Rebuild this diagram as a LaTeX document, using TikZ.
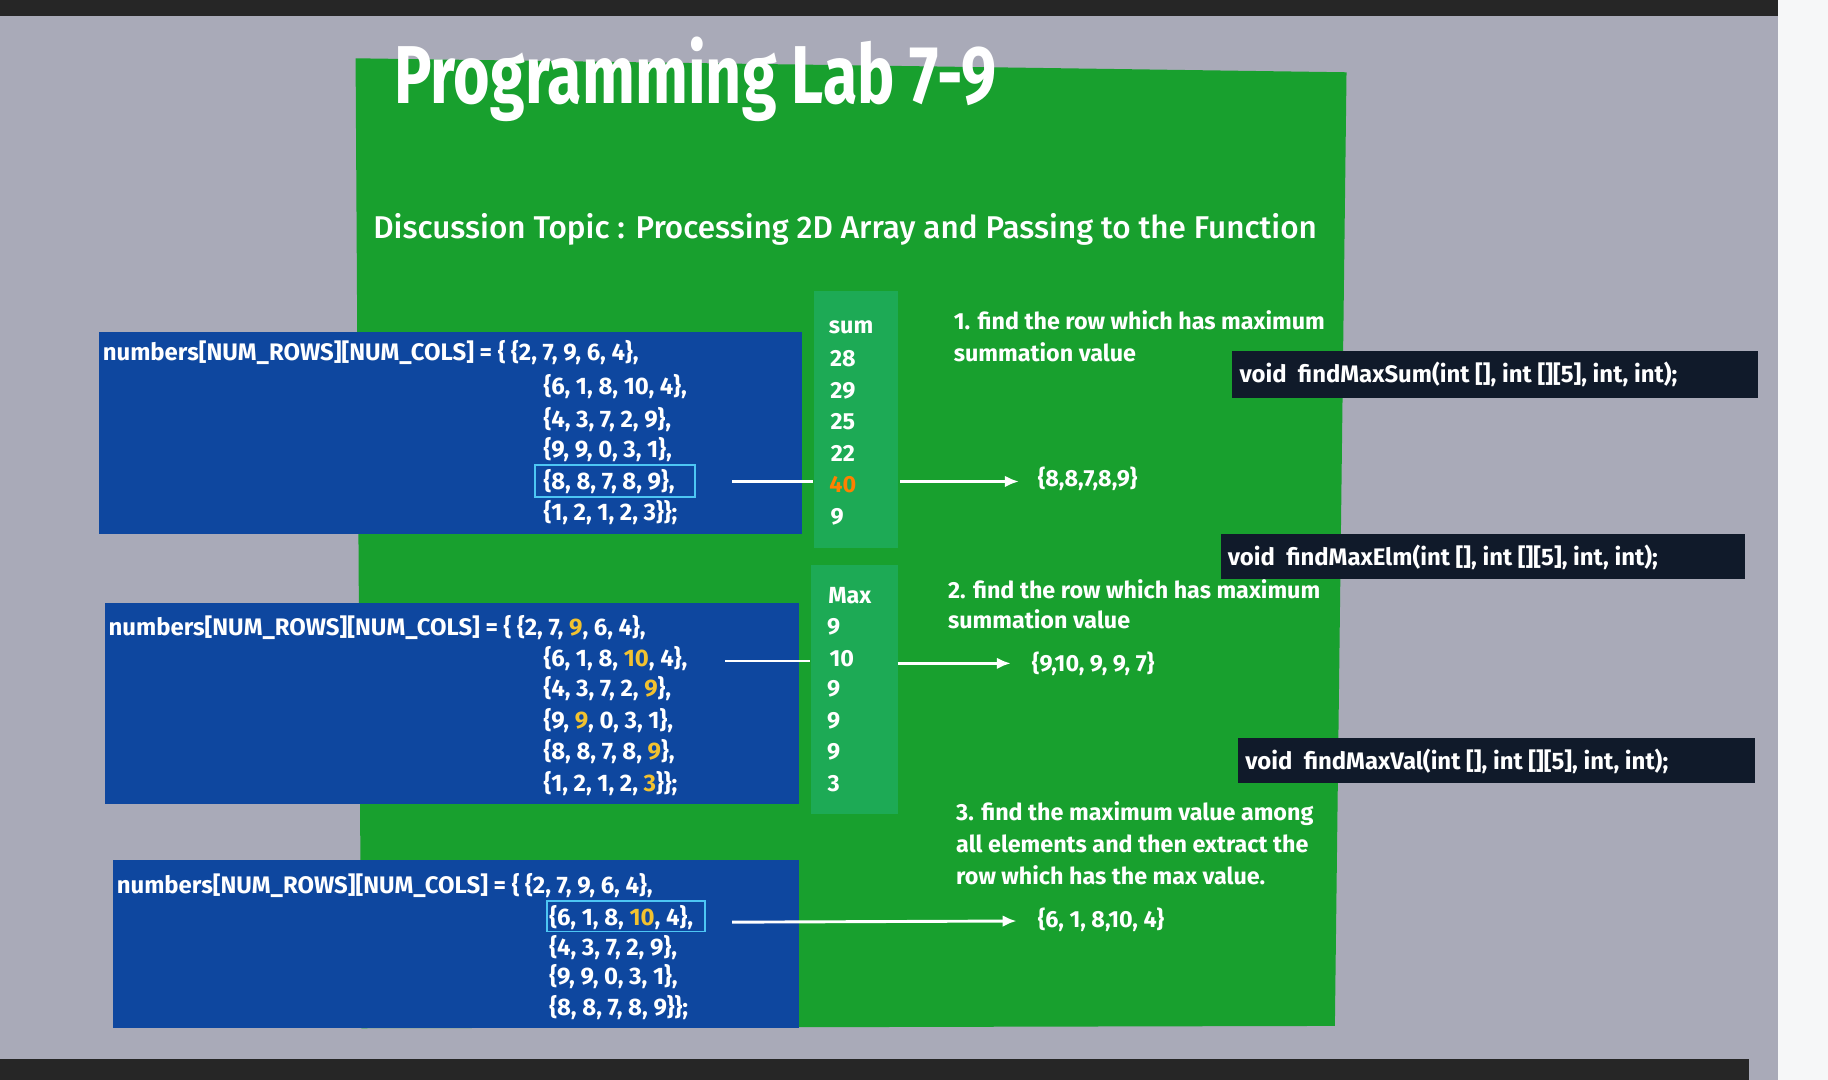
\documentclass[tikz,border=0pt]{standalone}
\usepackage{fontspec}
\usetikzlibrary{arrows.meta}
\setmainfont{Fira Sans}[UprightFont=* Bold]
\newfontfamily\subfont{Fira Sans}[UprightFont=* Medium]
\definecolor{bg}{HTML}{A9AAB8}
\definecolor{grn}{HTML}{18A02E}
\definecolor{teal}{HTML}{1DAA55}
\definecolor{blu}{HTML}{0E479F}
\definecolor{dk}{HTML}{101A2A}
\definecolor{yl}{HTML}{F2C230}
\newcommand\yy[1]{\textcolor{yl}{#1}}
\begin{document}
\begin{tikzpicture}[x=1pt,y=-1pt,
  code/.style={anchor=west,text=white,font=\fontsize{20.5}{21}\selectfont,inner sep=0pt},
  txt/.style={anchor=west,text=white,font=\fontsize{20}{21}\selectfont,inner sep=0pt},
  num/.style={text=white,font=\fontsize{20}{21}\selectfont,inner sep=0pt},
  fn/.style={anchor=west,text=white,font=\fontsize{20.5}{21}\selectfont,inner sep=0pt},
  ln/.style={white,line width=2.5pt},
  arr/.style={white,line width=2.5pt,-{Latex[length=12pt,width=10pt]}},
  hl/.style={draw=cyan!70!white,line width=1.5pt}]
\useasboundingbox (0,0) rectangle (1568,926);
\fill[bg] (0,0) rectangle (1568,926);
\fill[white!90!bg] (1525,0) rectangle (1568,926);
\fill[black!85] (0,0) rectangle (1525,14);
\fill[black!85] (0,908) rectangle (1500,926);
% green
\fill[grn] (305,50) -- (1155,62) -- (1145,880) -- (310,882) -- cycle;
\fill[teal] (698,250) rectangle (770,470);
\fill[teal] (696,485) rectangle (770,698);
% blue boxes
\fill[blu] (85,285) rectangle (688,458);
\fill[blu] (90,517) rectangle (685,690);
\fill[blu] (97,738) rectangle (685,882);
% dark fn boxes
\fill[dk] (1057,301) rectangle (1508,341);
\fill[dk] (1047,458) rectangle (1497,497);
\fill[dk] (1062,633) rectangle (1505,672);
\node[fn] (f1) at (1063,321) {void\ \ findMaxSum(int [], int [][5], int, int);};
\node[fn] (f2) at (1053,478) {void\ \ findMaxElm(int [], int [][5], int, int);};
\node[fn] (f3) at (1068,653) {void\ \ findMaxVal(int [], int [][5], int, int);};
% title
\node[anchor=west,text=white,inner sep=0pt,font=\fontsize{64}{64}\selectfont,xscale=0.84,yscale=1.1] (title) at (338,68) {Programming Lab 7-9};
\node[anchor=west,text=white,inner sep=0pt,font=\fontsize{27}{30}\subfont] (sub) at (320,197) {Discussion Topic : Processing 2D Array and Passing to the Function};
% box1
\node[code] (a0) at (88,302) {numbers[NUM\_ROWS][NUM\_COLS] = \{ \{2, 7, 9, 6, 4\},};
\node[code] (a1) at (466,332) {\{6, 1, 8, 10, 4\},};
\node[code] (a2) at (466,360) {\{4, 3, 7, 2, 9\},};
\node[code] (a3) at (466,386) {\{9, 9, 0, 3, 1\},};
\node[code] (a4) at (466,413) {\{8, 8, 7, 8, 9\},};
\node[code] (a5) at (466,440) {\{1, 2, 1, 2, 3\}\};};
\draw[hl] (459,399) rectangle (596,426);
\node[num] (s0) at (730,281) {sum};
\node[num] (s1) at (723,308) {28};
\node[num] (s2) at (723,335) {29};
\node[num] (s3) at (723,362) {25};
\node[num] (s4) at (723,389) {22};
\node[num,text=orange] (s5) at (723,416) {40};
\node[num] (s6) at (718,443) {9};
\coordinate (l1a) at (628,413); \coordinate (l1b) at (697,413);
\draw[ln] (l1a) -- (l1b);
\node[txt] (r1) at (890,411) {\{8,8,7,8,9\}};
\coordinate (q1) at (772,413);
\draw[arr] (q1) -- (874,413);
\node[txt] (t1a) at (818,275) {1. find the row which has maximum};
\node[txt] (t1b) at (818,302) {summation value};
% box2
\node[code] (b0) at (93,538) {numbers[NUM\_ROWS][NUM\_COLS] = \{ \{2, 7, \yy{9}, 6, 4\},};
\node[code] (b1) at (466,565) {\{6, 1, 8, \yy{10}, 4\},};
\node[code] (b2) at (466,591) {\{4, 3, 7, 2, \yy{9}\},};
\node[code] (b3) at (466,618) {\{9, \yy{9}, 0, 3, 1\},};
\node[code] (b4) at (466,645) {\{8, 8, 7, 8, \yy{9}\},};
\node[code] (b5) at (466,672) {\{1, 2, 1, 2, \yy{3}\}\};};
\node[num] (m0) at (729,511) {Max};
\node[num] (m1) at (715,538) {9};
\node[num] (m2) at (722,565) {10};
\node[num] (m3) at (715,591) {9};
\node[num] (m4) at (715,618) {9};
\node[num] (m5) at (715,645) {9};
\node[num] (m6) at (715,672) {3};
\coordinate (l2a) at (622,567); \coordinate (l2b) at (695,567);
\draw[ln] (l2a) -- (l2b);
\node[txt] (r2) at (885,569) {\{9,10, 9, 9, 7\}};
\coordinate (q2) at (770,569);
\draw[arr] (q2) -- (867,569);
\node[txt] (t2a) at (813,505) {2. find the row which has maximum};
\node[txt] (t2b) at (813,531) {summation value};
% box3
\node[code] (c0) at (100,760) {numbers[NUM\_ROWS][NUM\_COLS] = \{ \{2, 7, 9, 6, 4\},};
\node[code] (c1) at (471,787) {\{6, 1, 8, \yy{10}, 4\},};
\node[code] (c2) at (471,813) {\{4, 3, 7, 2, 9\},};
\node[code] (c3) at (471,838) {\{9, 9, 0, 3, 1\},};
\node[code] (c4) at (471,864) {\{8, 8, 7, 8, 9\}\};};
\draw[hl] (469,773) rectangle (605,799);
\node[txt] (r3) at (890,789) {\{6, 1, 8,10, 4\}};
\coordinate (q3) at (628,791);
\draw[arr] (q3) -- (872,790);
\node[txt] (t3a) at (820,698) {3. find the maximum value among};
\node[txt] (t3b) at (820,724) {all elements and then extract the};
\node[txt] (t3c) at (820,751) {row which has the max value.};
\end{tikzpicture}
\end{document}
